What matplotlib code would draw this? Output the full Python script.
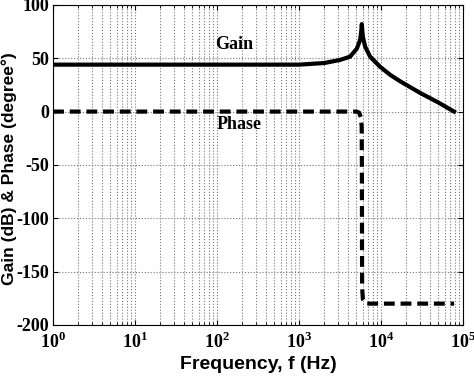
import matplotlib.pyplot as plt
import matplotlib as mpl

mpl.rcParams['mathtext.fontset'] = 'custom'
mpl.rcParams['mathtext.rm'] = 'Liberation Serif:bold'
mpl.rcParams['mathtext.bf'] = 'Liberation Serif:bold'

# Gain curve (dB)
gain_freq = [1, 10, 100, 1000, 2020, 3160, 4190, 5060, 5540, 5680, 5770, 5820,
             5880, 6000, 6380, 7350, 9720, 12880, 17000, 29900, 50000, 77600]
gain_db = [44, 44, 44, 44, 45.5, 48.4, 51.5, 59, 67, 73, 78, 82,
           77, 70, 61, 51.5, 42, 34.5, 28.5, 17.5, 8.5, 0]

# Phase curve (degrees)
phase_freq = [1, 10, 100, 1000, 4000, 5060, 5400, 5650, 5800, 5830, 5850,
              5870, 6000, 6500, 20000, 77600]
phase_deg = [0, 0, 0, 0, 0, 0, -1, -5, -14, -50, -120,
             -165, -176, -180, -180, -180]

xticks = [1, 10, 100, 1000, 10000, 100000]
xtick_labels = ['$10^{0}$', '$10^{1}$', '$10^{2}$', '$10^{3}$', '$10^{4}$', '$10^{5}$']
yticks = [-200, -150, -100, -50, 0, 50, 100]

fig = plt.figure(figsize=(4.74, 3.77), dpi=100)
ax = fig.add_axes([0.112, 0.138, 0.865, 0.849])

ax.semilogx(gain_freq, gain_db, color='black', lw=3)
ax.semilogx(phase_freq, phase_deg, color='black', lw=3, ls=(0, (2.6, 1.4)))

ax.set_xlim(1, 1e5)
ax.set_ylim(-200, 100)
ax.set_xticks(xticks)
ax.set_xticklabels(xtick_labels, fontsize=13)
ax.set_yticks(yticks)
ax.set_yticklabels([str(v) for v in yticks], fontsize=13,
                   family='Liberation Serif', fontweight='bold')
ax.tick_params(direction='in', which='both', top=True, right=True, pad=3)
ax.tick_params(axis='x', pad=5)

ax.grid(True, which='both', axis='x', ls=':', color='#777777', lw=0.8)
ax.grid(True, which='major', axis='y', ls=':', color='#777777', lw=0.8)

ax.text(161, 62.5, 'Gain', fontsize=13, family='Liberation Serif',
        fontweight='bold', ha='center', va='center')
ax.text(188, -12.5, 'Phase', fontsize=13, family='Liberation Serif',
        fontweight='bold', ha='center', va='center')

ax.set_xlabel('Frequency, f (Hz)', fontsize=14, family='Liberation Sans',
              fontweight='bold', labelpad=3)
ax.set_ylabel('Gain (dB) & Phase (degree°)', fontsize=12.5,
              family='Liberation Sans', fontweight='bold')
ax.yaxis.set_label_coords(-0.088, 0.49)

for s in ax.spines.values():
    s.set_linewidth(0.8)

fig.savefig('out.png', dpi=100)
